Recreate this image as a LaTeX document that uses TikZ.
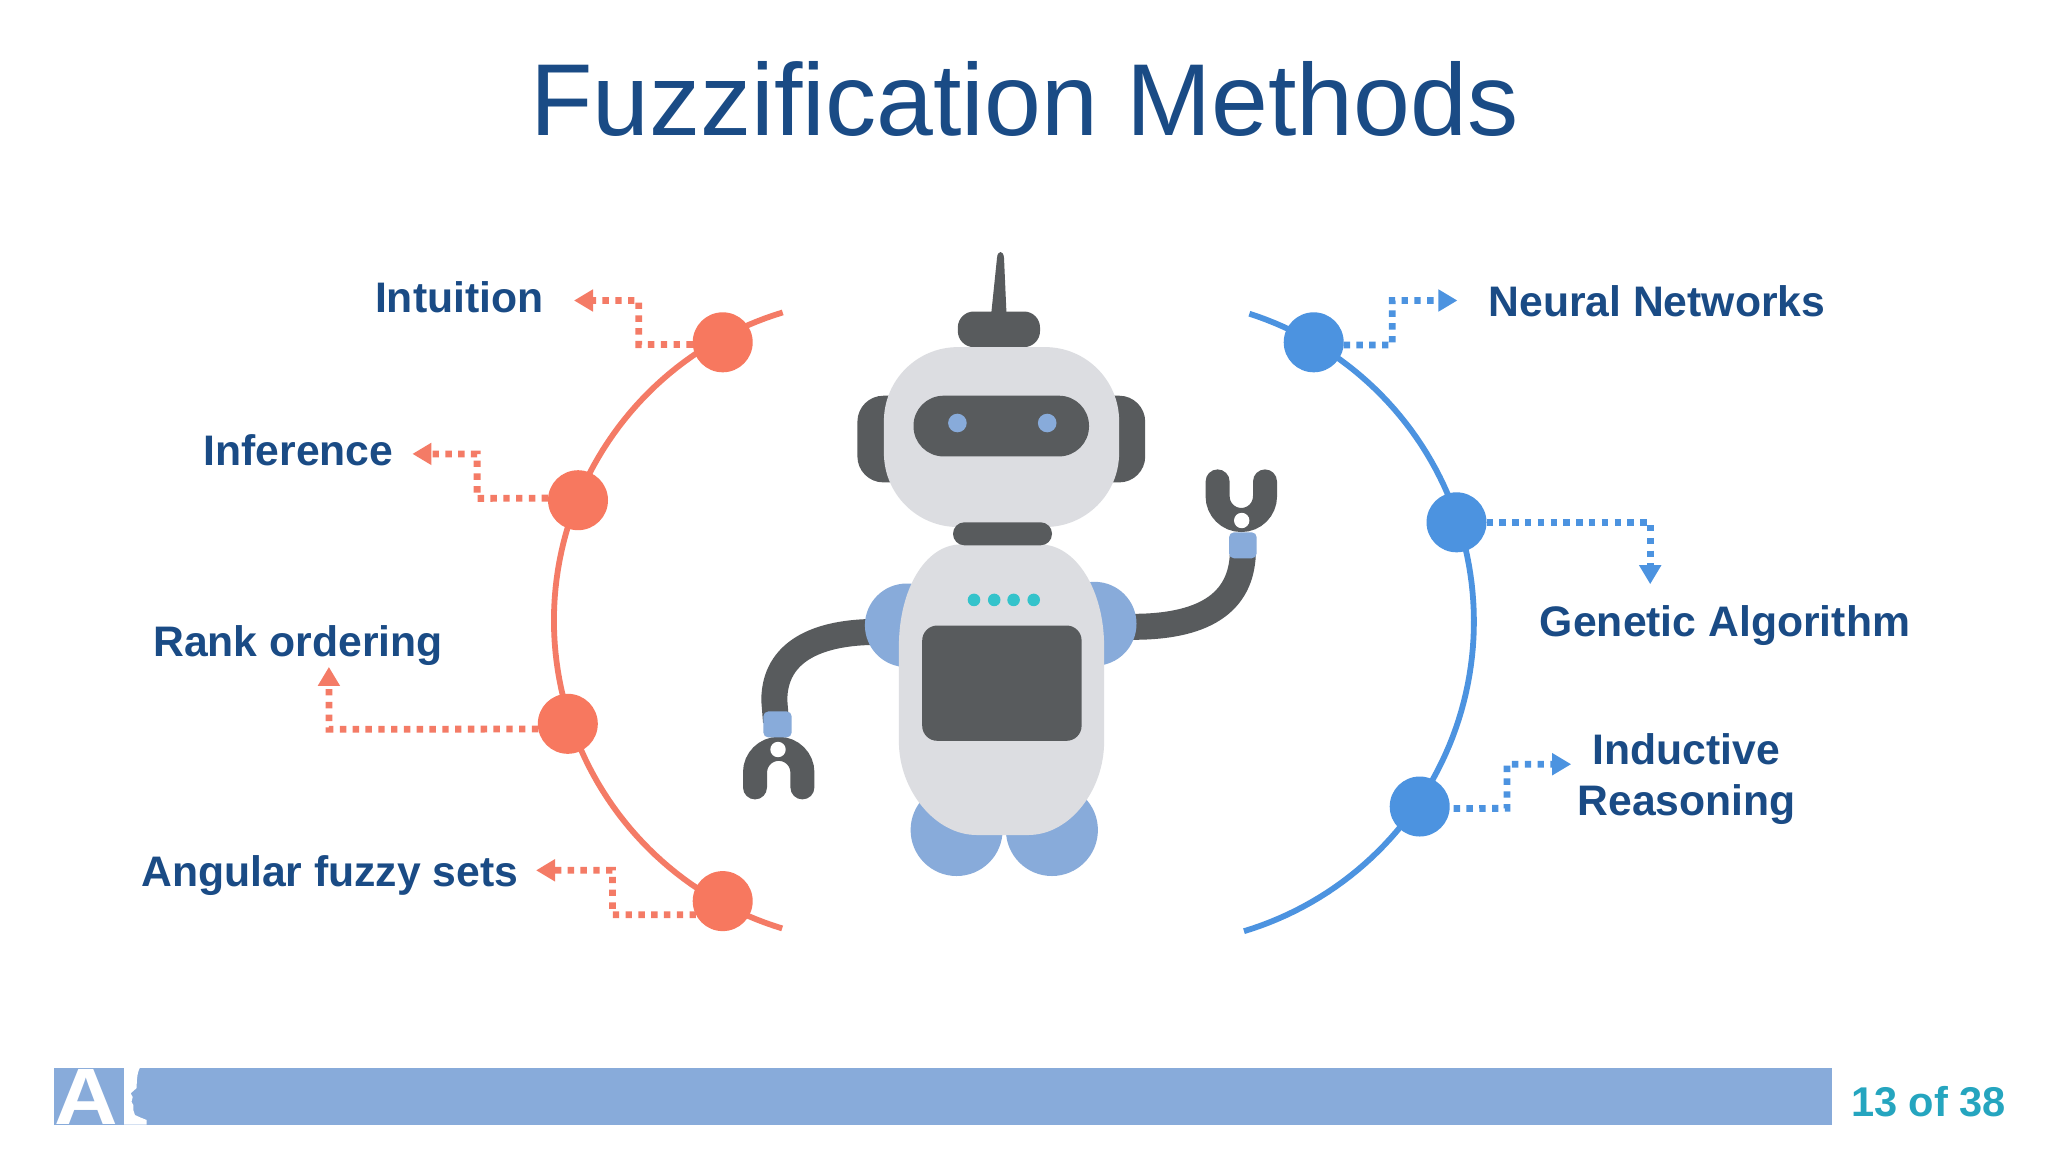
\documentclass[tikz,border=0pt]{standalone}
\usepackage{fontspec}
\setmainfont{Liberation Sans}
\usetikzlibrary{arrows.meta}
\definecolor{titleblue}{HTML}{1A4B85}
\definecolor{coral}{HTML}{F7785F}
\definecolor{coralline}{HTML}{F47B66}
\definecolor{skyblue}{HTML}{4C93E0}
\definecolor{softblue}{HTML}{88ABDA}
\definecolor{darkgrey}{HTML}{585B5D}
\definecolor{bodygrey}{HTML}{DCDDE1}
\definecolor{teal}{HTML}{34C3CB}
\definecolor{pagecol}{HTML}{25A5BF}
\tikzset{
  lab/.style={anchor=base,inner sep=0pt,text=titleblue,font=\fontsize{21.35}{25}\selectfont\bfseries},
  redball/.style={circle,fill=coral,minimum size=30pt,inner sep=0pt,outer sep=0pt},
  blueball/.style={circle,fill=skyblue,minimum size=30pt,inner sep=0pt,outer sep=0pt},
  rlink/.style={draw=coralline,line width=3.4pt,dash pattern=on 3.2pt off 3.2pt,-{Triangle[length=9.5pt,width=10.5pt,fill=coralline]}},
  blink/.style={draw=skyblue,line width=3.4pt,dash pattern=on 3.2pt off 3.2pt,-{Triangle[length=9.5pt,width=10.5pt,fill=skyblue]}},
  limb/.style={draw=darkgrey,line width=13pt},
  claw/.style={draw=darkgrey,line width=12pt,line cap=round}
}
\begin{document}
\begin{tikzpicture}[x=0.5pt,y=-0.5pt]
\useasboundingbox (0,0) rectangle (2048,1152);
\fill[white] (0,0) rectangle (2048,1152);
% title
\node[anchor=base,inner sep=0pt,text=titleblue,font=\fontsize{51.1}{60}\selectfont] (title) at (1024.5,135.8) {Fuzzification Methods};
% arcs
\draw[coralline,line width=2.9pt] plot[domain=106.9:253.2,samples=90,variable=\t] ({875.7+321.8*cos(\t)},{620.5+321.8*sin(\t)});
\draw[skyblue,line width=2.9pt] plot[domain=-72.2:73.2,samples=90,variable=\t] ({1150.5+323.4*cos(\t)},{621.6+323.4*sin(\t)});
% balls
\node[redball] (r1) at (722.7,342.3) {};
\node[redball] (r2) at (578,500.2) {};
\node[redball] (r3) at (567.8,723.8) {};
\node[redball] (r4) at (722.7,901.1) {};
\node[blueball] (b1) at (1313.7,342.3) {};
\node[blueball] (b2) at (1456.5,522.3) {};
\node[blueball] (b3) at (1419.7,806.5) {};
% labels
\node[lab] (l1) at (459.3,312) {Intuition};
\node[lab] (l2) at (298.5,465.4) {Inference};
\node[lab] (l3) at (298,656) {Rank ordering};
\node[lab] (l4) at (329.8,886) {Angular fuzzy sets};
\node[lab] (l5) at (1656.9,316.6) {Neural Networks};
\node[lab] (l6) at (1725,636) {Genetic Algorithm};
\node[lab] (l7) at (1686.5,764.2) {Inductive};
\node[lab] (l8) at (1686.7,815.7) {Reasoning};
% connector corners and free ends
\coordinate (k1) at (638.8,344.6); \coordinate (e1) at (574,300.5);
\coordinate (k2) at (477.1,498.4); \coordinate (e2) at (412.4,453.9);
\coordinate (k3) at (328.9,729.3); \coordinate (e3) at (328.9,666.9);
\coordinate (k4) at (612.4,914.8); \coordinate (e4) at (536,870.3);
\coordinate (k5) at (1392.2,345); \coordinate (e5) at (1457.4,300.5);
\coordinate (k6) at (1650.2,522.3); \coordinate (e6) at (1650.2,584.2);
\coordinate (k7) at (1507,808.3); \coordinate (e7) at (1571.2,764.2);
\draw[rlink] (r1.184) -- (k1) |- (e1);
\draw[rlink] (r2.176.6) -- (k2) |- (e2);
\draw[rlink] (r3.190.5) -- (k3) -- (e3);
\draw[rlink] (r4.207) -- (k4) |- (e4);
\draw[blink] (b1.355) -- (k5) |- (e5);
\draw[blink] (b2.east) -- (k6) -- (e6);
\draw[blink,shorten <=2pt] (b3.356) -- (k7) |- (e7);
% robot: arms
\draw[limb] (870,632) .. controls (818.6,633.3) and (774.3,650.6) .. (774.3,700.5) -- (776,722);
\draw[limb] (1133,626.8) .. controls (1210,626.8) and (1242.9,598.6) .. (1242.9,550);
% hands
\draw[claw] (755,787.4) -- (755,772.5) .. controls (755,759.4) and (765.6,748.8) .. (778.7,748.8) .. controls (791.8,748.8) and (802.4,759.4) .. (802.4,772.5) -- (802.4,787.4);
\fill[white] (778,749.5) circle[radius=7.7];
\draw[claw] (1217.6,481.4) -- (1217.6,496.3) .. controls (1217.6,509.4) and (1228.2,520) .. (1241.3,520) .. controls (1254.4,520) and (1265,509.4) .. (1265,496.3) -- (1265,481.4);
\fill[white] (1241.7,520.5) circle[radius=7.7];
% wrists
\fill[softblue,rounded corners=2.5pt] (763.3,711.4) rectangle (791.7,737.4);
\fill[softblue,rounded corners=2.5pt] (1229,532.3) rectangle (1256.7,558.3);
% shoulders and feet
\fill[softblue] (906.7,625.3) circle[radius=41.8];
\fill[softblue] (1094.5,623.8) circle[radius=42];
\fill[softblue] (956.6,830) circle[radius=46];
\fill[softblue] (1051.9,830) circle[radius=46];
% body
\fill[bodygrey] (961,544.4) .. controls (925,544.4) and (898.9,590) .. (898.9,646.3) -- (898.9,741.7)
  .. controls (898.9,790) and (935,835) .. (976.8,835) -- (1028.2,835)
  .. controls (1070,835) and (1104.1,790) .. (1104.1,741.7) -- (1104.1,646.3)
  .. controls (1104.1,590) and (1076,544.4) .. (1040,544.4) -- cycle;
\fill[darkgrey,rounded corners=7.5pt] (922.2,625.5) rectangle (1081.6,740.8);
\foreach \dx in {974,994.2,1013.6,1033.7}
  \fill[teal] (\dx,599.9) circle[radius=6.3];
% head
\fill[darkgrey,rounded corners=13pt] (857.4,395.7) rectangle (1145.2,482.4);
\fill[darkgrey] (991.4,312) -- (997,258) .. controls (997.5,250) and (1003.5,250) .. (1004,258) -- (1006.4,312) -- cycle;
\fill[darkgrey,rounded corners=8pt] (957.8,311.5) rectangle (1040,347.1);
\fill[bodygrey,rounded corners=37pt] (883.9,347.1) rectangle (1119.1,527);
\fill[darkgrey,rounded corners=15pt] (913.5,395.7) rectangle (1089,456.4);
\fill[softblue] (957.4,423) circle[radius=9.3];
\fill[softblue] (1047.2,423) circle[radius=9.3];
\fill[darkgrey,rounded corners=5.7pt] (953,522.3) rectangle (1052,545.3);
% footer
\fill[softblue] (54.3,1067.7) rectangle (1832.3,1124.7);
\fill[white] (124,1067.7) -- (140,1067.7) .. controls (136.7,1073) and (136.7,1083) .. (136.7,1088)
  -- (130.7,1093.3) -- (132.7,1097) -- (131.5,1101.7) -- (133.3,1105) -- (133.3,1110) -- (135,1115)
  -- (140,1117.3) -- (146.7,1120) -- (146.7,1124.7) -- (124,1124.7) -- cycle;
\node[anchor=base,inner sep=0pt,text=white,font=\fontsize{40}{48}\selectfont\bfseries] (logo) at (86.3,1124.7) {\scalebox{1.1}[1]{A}};
\node[anchor=base,inner sep=0pt,text=pagecol,font=\fontsize{20.8}{26}\selectfont\bfseries] (page) at (1928.5,1116.7) {13 of 38};
\end{tikzpicture}
\end{document}
